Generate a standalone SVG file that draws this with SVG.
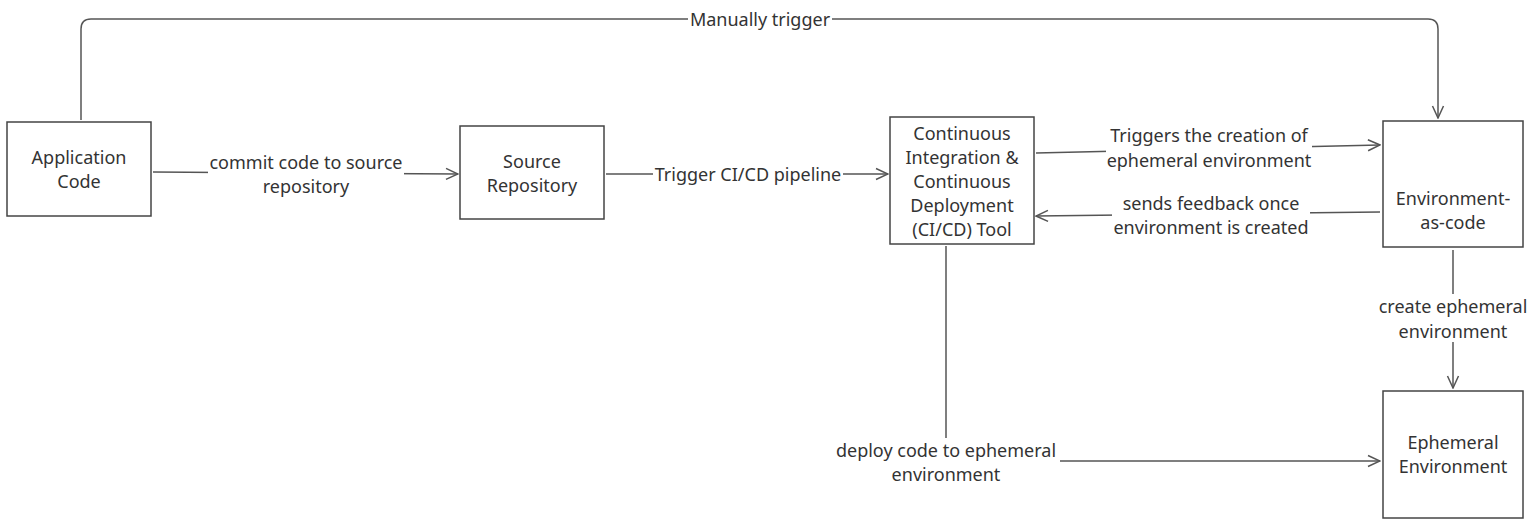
<svg xmlns="http://www.w3.org/2000/svg" width="1536" height="525" viewBox="0 0 1536 525">
  <style>
    .box { fill: #ffffff; stroke: #444444; stroke-width: 1.5; }
    .t { font-family: "Noto Sans", "Open Sans", sans-serif; font-size: 18px; fill: #333333; text-anchor: middle; dominant-baseline: central; }
    .edge { fill: none; stroke: #555555; stroke-width: 1.5; }
    .lbg { fill: #ffffff; }
  </style>
  <defs>
    <marker id="arrow" viewBox="0 0 14 14" refX="13" refY="7" markerWidth="14" markerHeight="14" markerUnits="userSpaceOnUse" orient="auto">
      <path d="M1,1.5 L13,7 L1,12.5" fill="none" stroke="#555555" stroke-width="1.5"/>
    </marker>
  </defs>
  <rect width="1536" height="525" fill="#ffffff"/>

  <g id="connectors">
    <path id="e-manual" class="edge" d="M81,120 L81,29 Q81,19 91,19 L1428,19 Q1438,19 1438,29 L1438,118" marker-end="url(#arrow)"/>
    <path id="e-commit" class="edge" d="M153,172 L458,174" marker-end="url(#arrow)"/>
    <path id="e-trigger" class="edge" d="M606,174 L888,174" marker-end="url(#arrow)"/>
    <path id="e-create" class="edge" d="M1036,153 L1380,145" marker-end="url(#arrow)"/>
    <path id="e-feedback" class="edge" d="M1380,212 L1036,216" marker-end="url(#arrow)"/>
    <path id="e-ephem" class="edge" d="M1453,250 L1453,388" marker-end="url(#arrow)"/>
    <path id="e-deploy" class="edge" d="M946,246 L946,461 L1380,461" marker-end="url(#arrow)"/>

    <g id="labels">
      <rect class="lbg" x="688" y="8" width="144" height="22"/>
      <text class="t" x="760" y="19">Manually trigger</text>

      <rect class="lbg" x="208" y="151" width="196" height="46"/>
      <text class="t" x="306" y="162">commit code to source</text>
      <text class="t" x="306" y="186">repository</text>

      <rect class="lbg" x="653" y="163" width="190" height="22"/>
      <text class="t" x="748" y="174">Trigger CI/CD pipeline</text>

      <rect class="lbg" x="1106" y="124" width="206" height="48"/>
      <text class="t" x="1209" y="135">Triggers the creation of</text>
      <text class="t" x="1209" y="160">ephemeral environment</text>

      <rect class="lbg" x="1112" y="192" width="198" height="46"/>
      <text class="t" x="1211" y="203">sends feedback once</text>
      <text class="t" x="1211" y="227">environment is created</text>

      <rect class="lbg" x="1370" y="294" width="166" height="48"/>
      <text class="t" x="1453" y="306">create ephemeral</text>
      <text class="t" x="1453" y="331">environment</text>

      <rect class="lbg" x="834" y="438" width="226" height="48"/>
      <text class="t" x="946" y="450">deploy code to ephemeral</text>
      <text class="t" x="946" y="474">environment</text>
    </g>
  </g>

  <g id="node-app">
    <rect class="box" x="7" y="122" width="144" height="94"/>
    <text class="t" x="79" y="157">Application</text>
    <text class="t" x="79" y="181">Code</text>
  </g>
  <g id="node-source">
    <rect class="box" x="460" y="126" width="144" height="93"/>
    <text class="t" x="532" y="161">Source</text>
    <text class="t" x="532" y="185">Repository</text>
  </g>
  <g id="node-cicd">
    <rect class="box" x="890" y="117" width="144" height="127"/>
    <text class="t" x="962" y="133">Continuous</text>
    <text class="t" x="962" y="157">Integration &amp;</text>
    <text class="t" x="962" y="181">Continuous</text>
    <text class="t" x="962" y="205">Deployment</text>
    <text class="t" x="962" y="229">(CI/CD) Tool</text>
  </g>
  <g id="node-eac">
    <rect class="box" x="1383" y="121" width="140" height="126"/>
    <text class="t" x="1453" y="198">Environment-</text>
    <text class="t" x="1453" y="222">as-code</text>
  </g>
  <g id="node-ephemeral">
    <rect class="box" x="1383" y="391" width="140" height="127"/>
    <text class="t" x="1453" y="442">Ephemeral</text>
    <text class="t" x="1453" y="466">Environment</text>
  </g>
</svg>
